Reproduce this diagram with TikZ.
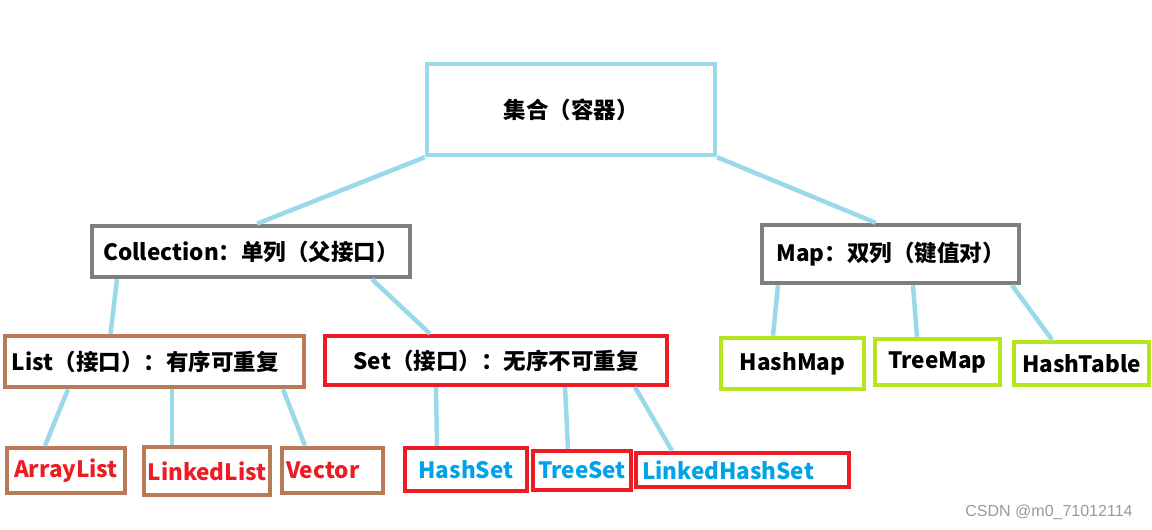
\documentclass[tikz,border=0pt]{standalone}
\usepackage{fontspec}
\setmainfont{Noto Sans CJK SC}
\setsansfont{Liberation Sans}
\usetikzlibrary{positioning}

\definecolor{paintblue}{RGB}{153,217,234}
\definecolor{paintgray}{RGB}{127,127,127}
\definecolor{paintbrown}{RGB}{185,122,87}
\definecolor{paintred}{RGB}{237,28,36}
\definecolor{paintlime}{RGB}{181,230,29}
\definecolor{painttext}{RGB}{0,162,232}

\tikzset{
  box/.style={draw, line width=4.5pt, inner sep=0pt, font=\bfseries\fontsize{22.5}{27}\selectfont},
  link/.style={draw=paintblue, line width=4.5pt},
}

\begin{document}
\begin{tikzpicture}[x=1pt, y=-1pt]
    \useasboundingbox (0,0) rectangle (1152,530);
    % root
    \node[box, draw=paintblue, minimum width=288, minimum height=91] (root) at (571,109.5) {集合（容器）};
    % interfaces
    \node[box, draw=paintgray, minimum width=318, minimum height=51] (coll) at (251,251.5) {Collection：单列（父接口）};
    \node[box, draw=paintgray, minimum width=257, minimum height=58] (map) at (890.5,254) {Map：双列（键值对）};
    \node[box, draw=paintbrown, minimum width=299, minimum height=51, text width=285, align=left] (list) at (154.5,361.5) {List（接口）：有序可重复};
    \node[box, draw=paintred, minimum width=342, minimum height=49] (set) at (496,360.5) {Set（接口）：无序不可重复};
    % maps
    \node[box, draw=paintlime, minimum width=143, minimum height=51] (hashmap) at (792.5,363.5) {HashMap};
    \node[box, draw=paintlime, minimum width=125, minimum height=46] (treemap) at (937.5,362) {TreeMap};
    \node[box, draw=paintlime, minimum width=135, minimum height=43] (hashtable) at (1081.5,363.5) {HashTable};
    % lists
    \node[box, draw=paintbrown, text=paintred, minimum width=118, minimum height=45] (arraylist) at (66,470.5) {ArrayList};
    \node[box, draw=paintbrown, text=paintred, minimum width=126, minimum height=48] (linkedlist) at (207,471) {LinkedList};
    \node[box, draw=paintbrown, text=paintred, minimum width=101, minimum height=45, text width=93, align=left] (vector) at (332.5,470.5) {Vector};
    % sets
    \node[box, draw=paintred, text=painttext, minimum width=122, minimum height=43] (hashset) at (466,469.5) {HashSet};
    \node[box, draw=paintred, text=painttext, minimum width=98, minimum height=39] (treeset) at (582,470.5) {TreeSet};
    \node[box, draw=paintred, text=painttext, minimum width=213, minimum height=34, text width=201, align=left] (linkedhashset) at (742.5,470) {LinkedHashSet};

    % connectors
    \draw[link] (root.south west) -- ([xshift=6]coll.north);
    \draw[link] (root.south east) -- ([xshift=-15]map.north);
    \draw[link] ([xshift=-134]coll.south) -- ([xshift=-44]list.north);
    \draw[link] ([xshift=121]coll.south) -- ([xshift=-66]set.north);
    \draw[link] ([xshift=-86.5]list.south) -- ([xshift=-21]arraylist.north);
    \draw[link] ([xshift=17.5]list.south) -- ([xshift=-35]linkedlist.north);
    \draw[link] ([xshift=128.5]list.south) -- ([xshift=-27.5]vector.north);
    \draw[link] ([xshift=-60]set.south) -- ([xshift=-29]hashset.north);
    \draw[link] ([xshift=69]set.south) -- ([xshift=-14]treeset.north);
    \draw[link] ([xshift=139]set.south) -- ([xshift=-70.5]linkedhashset.north);
    \draw[link] ([xshift=-112.5]map.south) -- ([xshift=-19.5]hashmap.north);
    \draw[link] ([xshift=22.5]map.south) -- ([xshift=-20.5]treemap.north);
    \draw[link] ([xshift=121.5]map.south) -- ([xshift=-29.5]hashtable.north);

    % watermark
    \node[font=\sffamily\fontsize{16}{19}\selectfont, text=black!40] (mark) at (1049,512) {CSDN @m0\_71012114};
\end{tikzpicture}
\end{document}
